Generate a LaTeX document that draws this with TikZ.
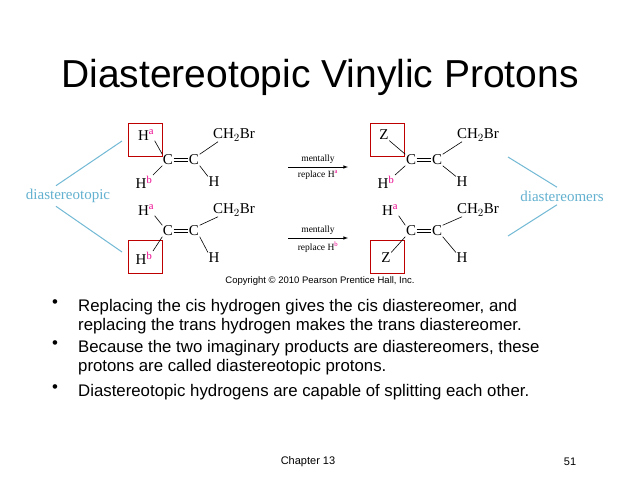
\documentclass[tikz,border=0pt]{standalone}
\usepackage{fontspec}
\setmainfont{Liberation Serif}
\newfontfamily\arial{Liberation Sans}
\begin{document}
\begin{tikzpicture}[x=1pt,y=-1pt,
  atom/.style={inner sep=0.5pt,font=\fontsize{15}{15}\selectfont},
  hbox/.style={draw=red!75!black,line width=0.8pt,minimum width=34pt,minimum height=33pt},
  bond/.style={line width=0.6pt},
  cyanline/.style={draw=cyan!60!gray!80,line width=1pt},
  lbl/.style={text=cyan!60!gray!90,font=\fontsize{15}{15}\selectfont},
  small/.style={font=\fontsize{9.5}{10}\selectfont}]
\useasboundingbox (0,0) rectangle (638,479);
\fill[white] (0,0) rectangle (638,479);
\node[font=\arial\fontsize{39}{39}\selectfont] (title) at (320,77) {Diastereotopic Vinylic Protons};

% --- top left
\node[atom] (c1) at (168,160) {C};
\node[atom] (c2) at (194,160) {C};
\node[atom] (ha1) at (146,135) {H\textsuperscript{\textcolor{magenta}{a}}};
\node[atom] (hb1) at (144,182) {H\textsuperscript{\textcolor{magenta}{b}}};
\node[atom] (br1) at (234,135) {CH$_2$Br};
\node[atom] (h1) at (214,182) {H};
\node[hbox] (box1) at (145,140) {};
% --- bottom left
\node[atom] (c3) at (168,231) {C};
\node[atom] (c4) at (194,231) {C};
\node[atom] (ha2) at (146,210) {H\textsuperscript{\textcolor{magenta}{a}}};
\node[atom] (hb2) at (144,258) {H\textsuperscript{\textcolor{magenta}{b}}};
\node[atom] (br2) at (234,210) {CH$_2$Br};
\node[atom] (h2) at (214,258) {H};
\node[hbox] (box2) at (145,257) {};
% --- top right
\node[atom] (c5) at (411,160) {C};
\node[atom] (c6) at (437,160) {C};
\node[atom] (z1) at (384,135) {Z};
\node[atom] (hb3) at (386,182) {H\textsuperscript{\textcolor{magenta}{b}}};
\node[atom] (br3) at (478,135) {CH$_2$Br};
\node[atom] (h3) at (462,182) {H};
\node[hbox] (box3) at (387,140) {};
% --- bottom right
\node[atom] (c7) at (411,231) {C};
\node[atom] (c8) at (437,231) {C};
\node[atom] (ha4) at (390,210) {H\textsuperscript{\textcolor{magenta}{a}}};
\node[atom] (z2) at (386,258) {Z};
\node[atom] (br4) at (478,210) {CH$_2$Br};
\node[atom] (h4) at (462,258) {H};
\node[hbox] (box4) at (387,257) {};

\foreach \a/\b/\ha/\hb/\br/\h in {c1/c2/ha1/hb1/br1/h1, c3/c4/ha2/hb2/br2/h2, c5/c6/z1/hb3/br3/h3, c7/c8/ha4/z2/br4/h4}{
  \draw[bond] ([yshift=-1.6pt]\a.east) -- ([yshift=-1.6pt]\b.west);
  \draw[bond] ([yshift=1.6pt]\a.east) -- ([yshift=1.6pt]\b.west);
  \draw[bond] (\a.north west) -- (\ha.south east);
  \draw[bond] (\a.south west) -- (\hb.north east);
  \draw[bond] (\b.north east) -- ([xshift=-16pt]\br.south);
  \draw[bond] (\b.south east) -- (\h.north west);
}

% arrows
\coordinate (a1s) at (288,167); \coordinate (a1e) at (348,167);
\coordinate (a2s) at (288,238); \coordinate (a2e) at (348,238);
\draw[-latex,line width=0.6pt] (a1s) -- node[above,small]{mentally} node[below,small]{replace H\textsuperscript{\textcolor{magenta}{a}}} (a1e);
\draw[-latex,line width=0.6pt] (a2s) -- node[above,small]{mentally} node[below,small]{replace H\textsuperscript{\textcolor{magenta}{b}}} (a2e);

% labels
\node[lbl] (dt) at (68,196) {diastereotopic};
\node[lbl] (dm) at (562,196) {diastereomers};
\coordinate (t1) at (122,141); \coordinate (t2) at (122,252);
\coordinate (m1) at (508,157); \coordinate (m2) at (508,236);
\draw[cyanline] ([xshift=-12pt]dt.north) -- (t1);
\draw[cyanline] ([xshift=-12pt]dt.south) -- (t2);
\draw[cyanline] ([xshift=-5pt]dm.north) -- (m1);
\draw[cyanline] ([xshift=-5pt]dm.south) -- (m2);

\node[font=\arial\fontsize{9.5}{9.5}\selectfont] (copy) at (320,281) {Copyright \textcopyright{} 2010 Pearson Prentice Hall, Inc.};

% bullets
\begin{scope}[every node/.style={font=\arial\fontsize{16.8}{19.5}\selectfont,anchor=north west,inner sep=0pt}]
\node (b1) at (52,299) {•};
\node[align=left] (t1n) at (78,299) {Replacing the cis hydrogen gives the cis diastereomer, and\\replacing the trans hydrogen makes the trans diastereomer.};
\node (b2) at (52,340) {•};
\node[align=left] (t2n) at (78,340) {Because the two imaginary products are diastereomers, these\\protons are called diastereotopic protons.};
\node (b3) at (52,384) {•};
\node (t3n) at (78,384) {Diastereotopic hydrogens are capable of splitting each other.};
\end{scope}
\node[font=\arial\fontsize{11}{11}\selectfont] (ch) at (308,462) {Chapter 13};
\node[font=\arial\fontsize{11}{11}\selectfont] (pg) at (570,462) {51};
\end{tikzpicture}
\end{document}
